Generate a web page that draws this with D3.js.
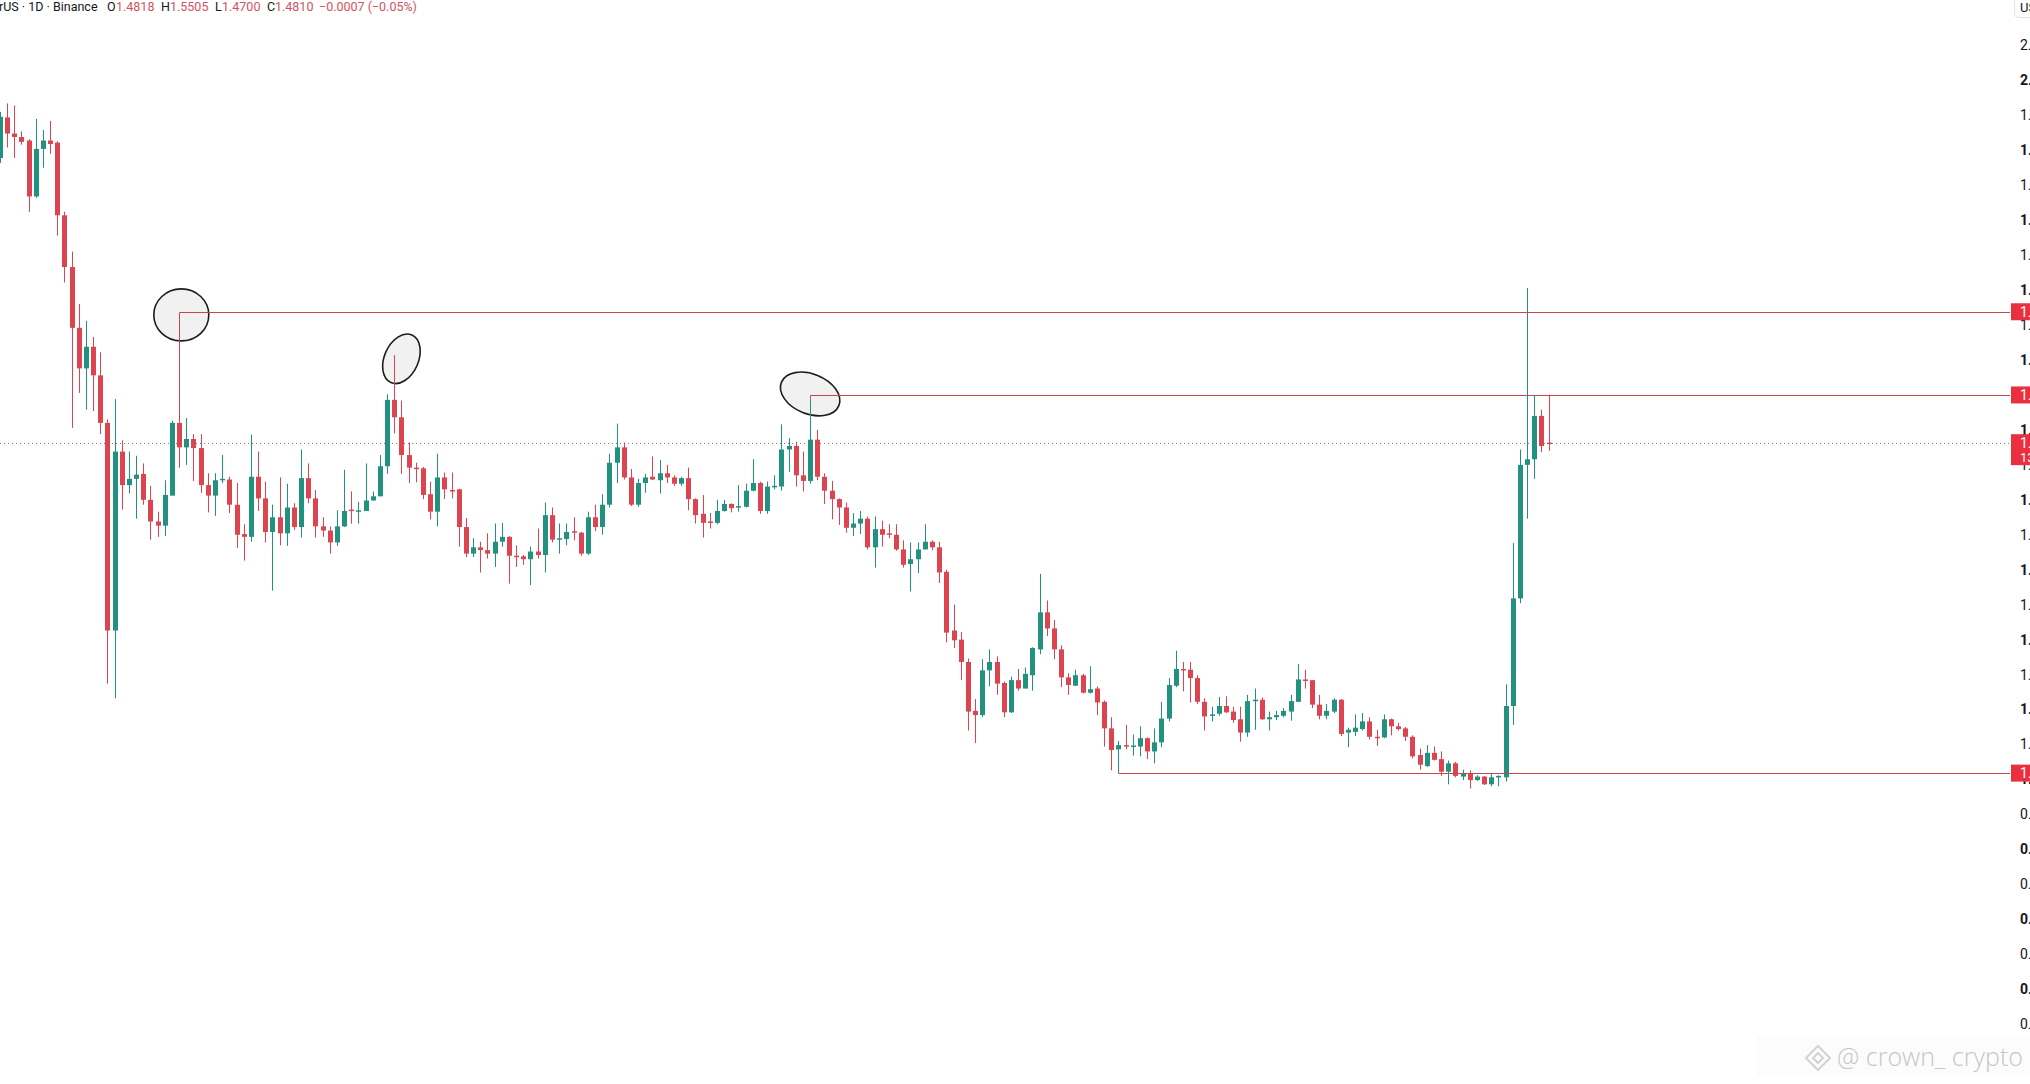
<!DOCTYPE html>
<html><head><meta charset="utf-8">
<script src="https://cdn.jsdelivr.net/npm/d3@7/dist/d3.min.js"></script>
<style>html,body{margin:0;padding:0;background:#fff;overflow:hidden}svg{display:block}</style>
</head><body><svg id="c" width="2030" height="1084"></svg>
<script>
// ---- data (daily candles) ----
const opens = [1.889,1.947,1.924,1.919,1.914,1.834,1.902,1.914,1.911,1.807,1.733,1.646,1.588,1.619,1.578,1.510,1.213,1.469,1.421,1.430,
1.437,1.400,1.369,1.363,1.406,1.510,1.475,1.487,1.474,1.421,1.406,1.429,1.429,1.393,1.351,1.347,1.433,1.402,1.354,1.375,
1.352,1.389,1.361,1.431,1.402,1.362,1.356,1.339,1.362,1.386,1.384,1.384,1.399,1.405,1.448,1.543,1.518,1.464,1.446,1.445,
1.408,1.383,1.432,1.414,1.415,1.361,1.323,1.332,1.328,1.323,1.340,1.347,1.320,1.319,1.315,1.326,1.321,1.378,1.343,1.344,
1.355,1.353,1.323,1.375,1.361,1.393,1.453,1.475,1.432,1.393,1.424,1.433,1.428,1.438,1.432,1.423,1.431,1.401,1.380,1.369,
1.367,1.384,1.394,1.389,1.390,1.413,1.424,1.384,1.419,1.419,1.472,1.477,1.435,1.427,1.486,1.433,1.413,1.401,1.389,1.360,
1.366,1.373,1.332,1.358,1.352,1.350,1.329,1.308,1.315,1.329,1.340,1.332,1.297,1.213,1.200,1.168,1.098,1.092,1.156,1.168,
1.138,1.096,1.142,1.130,1.149,1.186,1.239,1.216,1.186,1.146,1.134,1.149,1.124,1.130,1.111,1.073,1.043,1.049,1.048,1.047,
1.059,1.040,1.053,1.087,1.134,1.158,1.157,1.145,1.111,1.091,1.094,1.105,1.097,1.086,1.067,1.112,1.114,1.086,1.089,1.091,
1.097,1.111,1.143,1.142,1.107,1.091,1.097,1.114,1.067,1.068,1.072,1.083,1.061,1.060,1.086,1.076,1.073,1.061,1.035,1.019,
1.038,1.029,1.011,1.023,1.004,1.009,0.999,1.004,0.993,1.004,1.003,1.105,1.259,1.450,1.458,1.520,1.4818];
const highs = [1.955,1.967,1.964,1.927,1.916,1.945,1.929,1.942,1.913,1.812,1.755,1.680,1.656,1.633,1.611,1.515,1.544,1.485,1.469,1.463,
1.452,1.420,1.383,1.428,1.513,1.512,1.517,1.494,1.494,1.438,1.438,1.464,1.433,1.424,1.365,1.493,1.469,1.426,1.393,1.432,
1.423,1.395,1.472,1.452,1.414,1.375,1.362,1.385,1.443,1.412,1.397,1.452,1.412,1.464,1.551,1.607,1.542,1.482,1.453,1.447,
1.426,1.466,1.439,1.439,1.416,1.374,1.345,1.340,1.352,1.366,1.367,1.348,1.335,1.321,1.333,1.359,1.396,1.389,1.366,1.366,
1.375,1.354,1.383,1.393,1.408,1.466,1.509,1.482,1.444,1.430,1.437,1.462,1.457,1.450,1.435,1.433,1.446,1.402,1.407,1.381,
1.400,1.400,1.395,1.421,1.423,1.458,1.426,1.426,1.435,1.508,1.488,1.483,1.469,1.545,1.500,1.438,1.427,1.402,1.396,1.381,
1.384,1.376,1.376,1.370,1.365,1.365,1.342,1.339,1.339,1.365,1.342,1.340,1.300,1.250,1.211,1.173,1.115,1.172,1.186,1.176,
1.140,1.147,1.158,1.160,1.189,1.294,1.256,1.228,1.192,1.152,1.157,1.151,1.162,1.133,1.113,1.089,1.055,1.078,1.064,1.076,
1.060,1.073,1.111,1.145,1.184,1.168,1.168,1.149,1.116,1.104,1.118,1.119,1.104,1.104,1.121,1.130,1.117,1.097,1.098,1.102,
1.121,1.165,1.157,1.142,1.121,1.108,1.116,1.115,1.074,1.093,1.095,1.089,1.071,1.093,1.087,1.081,1.075,1.063,1.044,1.049,
1.047,1.040,1.027,1.025,1.014,1.013,1.006,1.005,1.008,1.006,1.136,1.338,1.472,1.703,1.549,1.529,1.5505];
const lows = [1.882,1.904,1.889,1.908,1.812,1.832,1.875,1.895,1.778,1.711,1.503,1.553,1.529,1.527,1.494,1.137,1.116,1.386,1.409,1.373,
1.393,1.343,1.347,1.348,1.406,1.446,1.450,1.427,1.410,1.382,1.377,1.424,1.381,1.331,1.313,1.340,1.384,1.339,1.270,1.335,
1.334,1.357,1.346,1.395,1.346,1.347,1.323,1.334,1.361,1.366,1.366,1.384,1.399,1.405,1.437,1.495,1.437,1.424,1.425,1.401,
1.372,1.362,1.401,1.402,1.333,1.318,1.318,1.296,1.316,1.304,1.333,1.280,1.304,1.307,1.278,1.316,1.296,1.339,1.323,1.335,
1.342,1.320,1.321,1.355,1.350,1.389,1.424,1.429,1.391,1.390,1.410,1.428,1.409,1.424,1.420,1.420,1.385,1.366,1.346,1.359,
1.365,1.383,1.382,1.383,1.389,1.412,1.380,1.380,1.415,1.413,1.440,1.419,1.412,1.423,1.428,1.394,1.372,1.364,1.353,1.348,
1.351,1.329,1.303,1.333,1.345,1.327,1.303,1.269,1.295,1.329,1.328,1.281,1.196,1.188,1.142,1.070,1.052,1.089,1.133,1.121,
1.089,1.095,1.127,1.130,1.127,1.179,1.205,1.172,1.132,1.121,1.134,1.123,1.123,1.092,1.047,1.013,1.009,1.043,1.034,1.033,
1.029,1.023,1.046,1.083,1.132,1.126,1.110,1.108,1.070,1.083,1.091,1.095,1.081,1.054,1.061,1.071,1.085,1.070,1.085,1.089,
1.084,1.111,1.130,1.102,1.086,1.086,1.095,1.062,1.046,1.062,1.070,1.057,1.048,1.059,1.063,1.070,1.055,1.030,1.014,1.018,
1.027,1.005,0.993,1.003,0.999,0.987,0.998,0.992,0.990,0.990,0.997,1.078,1.252,1.373,1.430,1.468,1.4700];
const closes = [1.948,1.924,1.919,1.912,1.834,1.902,1.914,1.909,1.807,1.733,1.646,1.588,1.619,1.578,1.510,1.213,1.469,1.421,1.430,1.436,
1.400,1.369,1.363,1.407,1.510,1.475,1.487,1.474,1.421,1.406,1.428,1.430,1.393,1.350,1.347,1.433,1.402,1.354,1.375,1.352,
1.389,1.361,1.431,1.402,1.362,1.356,1.339,1.362,1.384,1.384,1.385,1.399,1.405,1.448,1.543,1.518,1.464,1.446,1.444,1.407,
1.383,1.432,1.415,1.413,1.361,1.323,1.332,1.328,1.323,1.340,1.347,1.320,1.318,1.315,1.326,1.321,1.378,1.343,1.345,1.354,
1.354,1.323,1.375,1.361,1.393,1.453,1.475,1.432,1.393,1.424,1.432,1.429,1.438,1.432,1.423,1.431,1.401,1.378,1.367,1.368,
1.384,1.394,1.388,1.391,1.413,1.424,1.384,1.419,1.420,1.472,1.477,1.435,1.427,1.486,1.433,1.413,1.401,1.389,1.360,1.366,
1.373,1.332,1.358,1.350,1.351,1.329,1.307,1.315,1.329,1.340,1.332,1.296,1.210,1.199,1.168,1.097,1.092,1.156,1.168,1.137,
1.096,1.142,1.130,1.151,1.188,1.239,1.216,1.186,1.146,1.135,1.149,1.124,1.129,1.110,1.073,1.042,1.049,1.047,1.0485,1.059,
1.040,1.053,1.087,1.135,1.158,1.157,1.145,1.111,1.090,1.093,1.105,1.096,1.085,1.067,1.112,1.114,1.086,1.089,1.092,1.098,
1.112,1.143,1.141,1.107,1.091,1.098,1.114,1.065,1.071,1.074,1.083,1.061,1.060,1.086,1.076,1.072,1.061,1.033,1.021,1.038,
1.028,1.011,1.023,1.005,1.009,0.999,1.004,0.993,1.003,1.005,1.105,1.259,1.450,1.458,1.520,1.477,1.4810];

const priceTicks = [0.65,0.70,0.75,0.80,0.85,0.90,0.95,1.00,1.05,1.10,1.15,1.20,1.25,1.30,1.35,1.40,1.45,1.50,1.55,1.60,1.65,1.70,1.75,1.80,1.85,1.90,1.95,2.00,2.05];
const levelPrices = [1.669, 1.550, 1.009];     // drawn horizontal levels
const levelStartIdx = [25, 113, 156];          // candle where each level starts
const markIdx = [25.3, 56.0, 113.0];           // highlighted swing highs (ellipses)
const markPrice = [1.6645, 1.6017, 1.5514];
const lastPrice = 1.4810;
const header = {sym: "rUS · 1D · Binance", o: "1.4818", h: "1.5505", l: "1.4700", c: "1.4810", chg: "−0.0007 (−0.05%)"};

// ---- drawing ----
const UP = "#22917f", DOWN = "#dc4450", LINE = "#c4464f";
const svg = d3.select("#c");
const n = opens.length;
const x = d3.scaleLinear().domain([0, n - 1]).range([-0.1, -0.1 + (n - 1) * 7.17]);
const y = d3.scaleLinear().domain([1.0, 2.0]).range([779.4, 80.4]);

const plot = svg.append("g");

// current price dotted line
plot.append("line").attr("x1", 0).attr("x2", 2010)
  .attr("y1", Math.round(y(lastPrice)) + 0.5).attr("y2", Math.round(y(lastPrice)) + 0.5)
  .attr("stroke", "#8f7476").attr("stroke-width", 1).attr("stroke-dasharray", "1,3");

// ellipses (annotations) behind candles
const ellR = [[27.5, 26, 0], [17, 26, 24], [31, 20, 22]];
markIdx.forEach((mi, k) => {
  const cx = x(mi), cy = y(markPrice[k]);
  plot.append("ellipse").attr("cx", cx).attr("cy", cy)
    .attr("rx", ellR[k][0]).attr("ry", ellR[k][1])
    .attr("transform", `rotate(${ellR[k][2]},${cx},${cy})`)
    .attr("fill", "#f1f1f1").attr("stroke", "#1c1c1c").attr("stroke-width", 1.6);
});

// candles
const data = d3.range(n).map(i => ({i, o: opens[i], h: highs[i], l: lows[i], c: closes[i]}));
const cg = plot.append("g");
cg.selectAll("line.w").data(data).join("line").attr("class", "w")
  .attr("x1", d => Math.round(x(d.i)) + 0.5).attr("x2", d => Math.round(x(d.i)) + 0.5)
  .attr("y1", d => y(d.h)).attr("y2", d => y(d.l))
  .attr("stroke", d => d.c >= d.o ? UP : DOWN).attr("stroke-width", 1);
cg.selectAll("rect.b").data(data).join("rect").attr("class", "b")
  .attr("x", d => Math.round(x(d.i)) - 2).attr("width", 5)
  .attr("y", d => y(Math.max(d.o, d.c)))
  .attr("height", d => Math.max(1.5, Math.abs(y(d.o) - y(d.c))))
  .attr("fill", d => d.c >= d.o ? UP : DOWN);

// drawn levels
levelPrices.forEach((p, k) => {
  const si = levelStartIdx[k];
  const xs = Math.round(x(si)) + 0.5, yy = Math.round(y(p)) + 0.5;
  plot.append("line").attr("x1", xs).attr("x2", 2010).attr("y1", yy).attr("y2", yy)
    .attr("stroke", LINE).attr("stroke-width", 1);
  if (highs[si] < p) {
    plot.append("line").attr("x1", xs).attr("x2", xs).attr("y1", yy).attr("y2", y(highs[si]))
      .attr("stroke", LINE).attr("stroke-width", 1);
  }
});

// price axis
const axisG = svg.append("g").attr("transform", "translate(2014,0)")
  .call(d3.axisRight(y).tickValues(priceTicks).tickSize(0).tickPadding(6).tickFormat(d3.format(".4f")));
axisG.select(".domain").remove();
axisG.selectAll("text").attr("font-family", "Roboto, 'Open Sans', sans-serif").attr("font-size", 14)
  .attr("fill", "#131722")
  .attr("font-weight", d => Math.abs(Math.round(d * 10) - d * 10) < 1e-6 ? 700 : 400);

// currency button at the top of the axis
svg.append("rect").attr("x", 2014.5).attr("y", -3.5).attr("width", 40).attr("height", 21).attr("rx", 4)
  .attr("fill", "#fff").attr("stroke", "#e0e3eb");
svg.append("text").attr("x", 2020).attr("y", 12).text("USDT")
  .attr("font-family", "Roboto, sans-serif").attr("font-size", 13).attr("fill", "#131722");

// red price labels
const fmt = d3.format(".4f");
const lblFont = "Roboto, sans-serif";
levelPrices.forEach(p => {
  const yy = y(p);
  svg.append("rect").attr("x", 2011).attr("y", yy - 8.5).attr("width", 40).attr("height", 17).attr("fill", "#e8303f");
  svg.append("text").attr("x", 2020).attr("y", yy + 5).text(fmt(p))
    .attr("font-family", lblFont).attr("font-size", 14).attr("fill", "#fff");
});
{
  const yy = y(lastPrice);
  svg.append("rect").attr("x", 2011).attr("y", yy - 9).attr("width", 40).attr("height", 31).attr("fill", "#e8303f");
  svg.append("text").attr("x", 2020).attr("y", yy + 5).text(fmt(lastPrice))
    .attr("font-family", lblFont).attr("font-size", 14).attr("fill", "#fff");
  svg.append("text").attr("x", 2020).attr("y", yy + 18.5).text("13:27:45")
    .attr("font-family", lblFont).attr("font-size", 13).attr("fill", "#fff");
}

// header legend
const hdr = svg.append("g").attr("font-family", "Roboto, 'Open Sans', sans-serif").attr("font-size", 12.5);
const OHLCcol = "#d2525f";
const parts = [
  [-1, header.sym, "#131722"], [107, "O", "#131722"], [116, header.o, OHLCcol],
  [161, "H", "#131722"], [170, header.h, OHLCcol], [215, "L", "#131722"], [222, header.l, OHLCcol],
  [267, "C", "#131722"], [275, header.c, OHLCcol], [319, header.chg, OHLCcol]
];
parts.forEach(p => hdr.append("text").attr("x", p[0]).attr("y", 10.5).attr("fill", p[2]).text(p[1]));

// watermark
const wm = svg.append("g");
wm.append("rect").attr("x", 1757).attr("y", 1036).attr("width", 273).attr("height", 40).attr("fill", "#fcfcfc");
const lx = 1818, ly = 1058;
wm.append("path").attr("d", `M${lx},${ly-12} L${lx+12},${ly} L${lx},${ly+12} L${lx-12},${ly} Z`)
  .attr("fill", "none").attr("stroke", "#d2d2d2").attr("stroke-width", 2);
wm.append("path").attr("d", `M${lx},${ly-5} L${lx+5},${ly} L${lx},${ly+5} L${lx-5},${ly} Z`)
  .attr("fill", "none").attr("stroke", "#d2d2d2").attr("stroke-width", 2);
wm.append("text").attr("x", 1837).attr("y", 1066).text("@ crown_ crypto")
  .attr("textLength", 186).attr("lengthAdjust", "spacingAndGlyphs")
  .attr("font-family", "'Open Sans', sans-serif").attr("font-weight", 300).attr("font-size", 25).attr("fill", "#c6c6c6");
</script></body></html>
